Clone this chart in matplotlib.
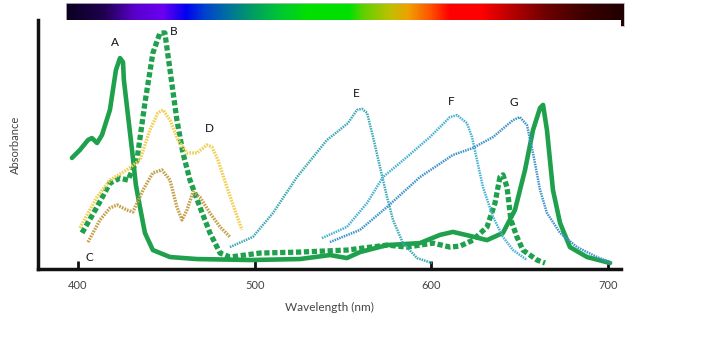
import numpy as np
import matplotlib
matplotlib.use("Agg")
import matplotlib.pyplot as plt
from matplotlib.colors import LinearSegmentedColormap

plt.rcParams['font.family'] = ['Lato', 'DejaVu Sans']

# Absorbance curves (wavelength nm, relative absorbance)
wl_a = [396.6, 401.1, 405.7, 407.9, 410.8, 413.6, 418.1, 421.5, 423.8, 425.5, 426.0, 428.3, 430.6,
        432.8, 435.1, 437.9, 442.4, 452.1, 467.3, 497.3, 525.6, 542.6, 552.2, 559.6, 574.9,
        593.5, 604.9, 612.2, 621.8, 631.5, 640.5, 647.3, 653.0, 657.5, 661.5, 663.2, 665.4,
        668.8, 672.8, 678.4, 688.1, 701.1]
abs_a = [0.446, 0.478, 0.518, 0.526, 0.506, 0.538, 0.639, 0.799, 0.847, 0.831, 0.759, 0.618, 0.478,
         0.337, 0.249, 0.145, 0.076, 0.048, 0.040, 0.036, 0.040, 0.056, 0.044, 0.068, 0.096,
         0.104, 0.137, 0.149, 0.133, 0.116, 0.145, 0.237, 0.398, 0.558, 0.647, 0.659, 0.558,
         0.317, 0.185, 0.088, 0.048, 0.024]

wl_b = [402.3, 410.8, 418.1, 423.8, 428.3, 433.4, 437.9, 442.4, 446.4, 449.2, 452.1, 456.0, 459.4,
        463.4, 469.0, 474.7, 480.4, 486.0, 503.0, 525.6, 552.2, 574.9, 586.2, 600.9, 610.5,
        616.2, 623.5, 631.5, 636.0, 638.8, 640.5, 642.8, 645.0, 648.4, 651.8, 659.8, 664.3]
abs_b = [0.145, 0.249, 0.345, 0.365, 0.357, 0.438, 0.667, 0.867, 0.948, 0.948, 0.799, 0.598, 0.466,
         0.357, 0.249, 0.145, 0.064, 0.048, 0.064, 0.068, 0.076, 0.096, 0.088, 0.104, 0.088,
         0.092, 0.116, 0.169, 0.265, 0.369, 0.378, 0.329, 0.197, 0.129, 0.076, 0.036, 0.024]

wl_c = [405.7, 412.5, 418.1, 422.1, 427.7, 431.1, 436.8, 442.4, 447.5, 452.1, 456.0, 458.9, 461.7,
        465.1, 469.0, 474.7, 480.4, 486.0]
abs_c = [0.108, 0.197, 0.245, 0.257, 0.237, 0.229, 0.317, 0.386, 0.398, 0.357, 0.249, 0.197, 0.237,
         0.309, 0.289, 0.225, 0.169, 0.129]

wl_d = [401.1, 410.8, 418.1, 427.7, 435.1, 440.7, 445.3, 448.1, 452.1, 456.6, 461.7, 467.3, 473.0,
        475.8, 479.2, 484.3, 488.8, 492.8]
abs_d = [0.165, 0.289, 0.357, 0.398, 0.438, 0.558, 0.627, 0.639, 0.598, 0.518, 0.466, 0.466, 0.498,
         0.490, 0.438, 0.329, 0.237, 0.157]

wl_e = [486.0, 499.0, 510.4, 523.9, 540.9, 546.6, 552.8, 557.9, 560.7, 563.6, 567.0, 570.9, 574.9,
        578.3, 583.9, 591.9, 600.3]
abs_e = [0.088, 0.129, 0.225, 0.369, 0.518, 0.550, 0.586, 0.639, 0.643, 0.627, 0.530, 0.410, 0.289,
         0.197, 0.104, 0.044, 0.024]

wl_f = [538.1, 552.2, 563.6, 572.6, 586.2, 599.2, 610.5, 614.5, 620.1, 623.0, 625.8, 629.2, 634.9,
        640.5, 646.2, 654.1]
abs_f = [0.124, 0.169, 0.265, 0.369, 0.450, 0.530, 0.610, 0.618, 0.586, 0.530, 0.438, 0.329, 0.209,
         0.129, 0.076, 0.036]

wl_g = [542.6, 559.6, 574.9, 593.5, 612.2, 623.5, 634.9, 646.2, 650.1, 654.1, 657.5, 661.5, 665.4,
        672.8, 682.4, 693.7, 702.2]
abs_g = [0.108, 0.157, 0.249, 0.369, 0.458, 0.486, 0.530, 0.598, 0.610, 0.578, 0.466, 0.317, 0.225,
         0.145, 0.088, 0.048, 0.024]

labels = ['A', 'B', 'C', 'D', 'E', 'F', 'G']
label_wl = [421.1, 453.9, 406.3, 474.1, 557.3, 611.1, 646.7]
label_abs = [0.908, 0.952, 0.048, 0.566, 0.703, 0.671, 0.667]

ticks = [400, 500, 600, 700]

# spectrum strip colours
spec_pos = [0.0, 0.067, 0.124, 0.173, 0.214, 0.247, 0.288, 0.337, 0.386, 0.435, 0.508, 0.533,
            0.582, 0.614, 0.655, 0.688, 0.745, 0.794, 0.860, 0.925, 1.0]
spec_col = ['#0a0020', '#200050', '#5a00d0', '#6a00f0', '#0000f0', '#0040d0', '#0070a0', '#00a060',
            '#00c830', '#00e000', '#00e000', '#60d000', '#c0c000', '#f0a000', '#ff5000', '#ff0000',
            '#ff0000', '#c00000', '#700000', '#400000', '#200000']

fig = plt.figure(figsize=(7.12, 3.44), dpi=100)

# spectrum bar
cax = fig.add_axes([66 / 712, 1 - 26 / 344, 558 / 712, 23 / 344])
cmap = LinearSegmentedColormap.from_list('spec', list(zip(spec_pos, spec_col)))
cax.imshow(np.linspace(0, 1, 512)[None, :], aspect='auto', cmap=cmap)
cax.set_xticks([])
cax.set_yticks([])
for s in cax.spines.values():
    s.set_color('#bbbbbb')
    s.set_linewidth(0.6)

ax = fig.add_axes([38 / 712, 75 / 344, 583 / 712, 249 / 344])

green = '#1fa04c'
ax.plot(wl_a, abs_a, color=green, lw=3.3, solid_capstyle='round', solid_joinstyle='round')
ax.plot(wl_b, abs_b, color=green, lw=3.8, linestyle=(0, (1.0, 0.5)))
ax.plot(wl_d, abs_d, color='#f0d055', lw=2.4, linestyle=(0, (0.5, 0.35)))
ax.plot(wl_c, abs_c, color='#c4a24c', lw=2.4, linestyle=(0, (0.5, 0.35)))
ax.plot(wl_e, abs_e, color='#3aa9b5', lw=1.8, linestyle=(0, (0.6, 0.4)))
ax.plot(wl_f, abs_f, color='#45b0d5', lw=1.8, linestyle=(0, (0.6, 0.4)))
ax.plot(wl_g, abs_g, color='#3c92cc', lw=1.8, linestyle=(0, (0.6, 0.4)))

for t, x, y in zip(labels, label_wl, label_abs):
    ax.text(x, y, t, fontsize=8.5, ha='center', va='center', color='#111111')

ax.set_xlim(377.4, 707.3)
ax.set_ylim(0, 1)
ax.set_xticks(ticks)
ax.set_xticklabels([str(t) for t in ticks], fontsize=8, color='#444444')
ax.set_yticks([])
ax.tick_params(axis='x', direction='in', length=6, width=2, color='#111111', pad=8)
for side in ['top', 'right']:
    ax.spines[side].set_visible(False)
for side in ['left', 'bottom']:
    ax.spines[side].set_linewidth(2.5)
    ax.spines[side].set_color('#111111')
ax.set_xlabel('Wavelength (nm)', fontsize=8.5, color='#444444', labelpad=8)
ax.set_ylabel('Absorbance', fontsize=8, color='#444444', labelpad=12)

fig.savefig('out.png', dpi=100)
